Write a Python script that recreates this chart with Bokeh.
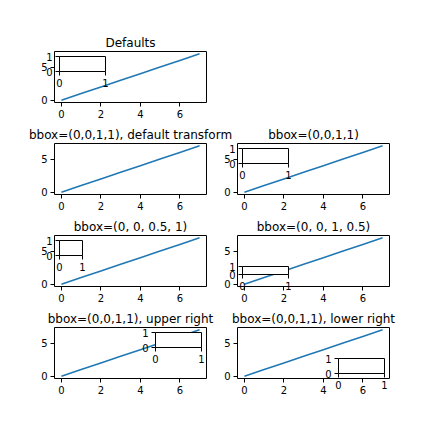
from bokeh.plotting import figure
from bokeh.layouts import column
from bokeh.models import Range1d, FixedTicker
from bokeh.embed import file_html
from bokeh.resources import INLINE

FONT = "DejaVu Sans"

# ---- data ----
x_data = [0, 1, 2, 3, 4, 5, 6, 7]
y_data = [0, 1, 2, 3, 4, 5, 6, 7]
main_xticks = [0, 2, 4, 6]
main_yticks = [0, 5]
inset_xticks = [0, 1]
inset_yticks = [0, 1]
inset_lim = [0, 1]
titles = [
    "Defaults",
    "bbox=(0,0,1,1), default transform",
    "bbox=(0,0,1,1)",
    "bbox=(0, 0, 0.5, 1)",
    "bbox=(0, 0, 1, 0.5)",
    "bbox=(0,0,1,1), upper right",
    "bbox=(0,0,1,1), lower right",
]

# ---- layout (page px of each axes frame) ----
FW, FH = 152, 51
main_pos = [(54, 51), (54, 143), (237, 143), (54, 235), (237, 235), (54, 327), (237, 327)]
inset_pos = [  # left, top, w, h
    (59, 56, 46, 15),
    (242, 148, 46, 15),
    (59, 240, 23, 15),
    (242, 266, 46, 8),
    (155, 332, 46, 15),
    (338, 358, 46, 15),
]
# identical borders for every figure (the column aligns them)
ML, MR, MT, MB = 40, 30, 30, 30


def pad(vals, frac=0.05):
    lo, hi = min(vals), max(vals)
    d = (hi - lo) * frac
    return lo - d, hi + d


def style(p, xt, yt):
    for ax, t in ((p.xaxis[0], xt), (p.yaxis[0], yt)):
        ax.ticker = FixedTicker(ticks=t)
        ax.axis_line_color = None
        ax.major_tick_in = 0
        ax.major_tick_out = 4
        ax.major_tick_line_color = "black"
        ax.major_tick_line_width = 1
        ax.minor_tick_line_color = None
        ax.major_label_text_font = FONT
        ax.major_label_text_font_size = "10px"
        ax.major_label_text_color = "black"
        ax.major_label_standoff = 3
    p.xgrid.visible = False
    p.ygrid.visible = False
    p.outline_line_color = "black"
    p.outline_line_width = 1
    p.outline_line_alpha = 1


def place(fl, ft):
    return {"position": "absolute", "left": f"{fl - ML}px", "top": f"{ft - MT}px"}


children = []
xlo, xhi = pad(x_data)
ylo, yhi = pad(y_data)
for t, (fl, ft) in zip(titles, main_pos):
    p = figure(frame_width=FW, frame_height=FH,
               x_range=Range1d(xlo, xhi), y_range=Range1d(ylo, yhi),
               output_backend="svg", toolbar_location=None,
               min_border_left=ML, min_border_right=MR,
               min_border_top=MT, min_border_bottom=MB,
               background_fill_color="white", border_fill_alpha=0,
               title=t, styles=place(fl, ft))
    p.title.text_font = FONT
    p.title.text_font_size = "12px"
    p.title.text_font_style = "normal"
    p.title.text_color = "black"
    p.title.align = "center"
    p.title.standoff = 3
    p.line(x_data, y_data, line_color="#1f77b4", line_width=1.5)
    style(p, main_xticks, main_yticks)
    children.append(p)

for (il, it, w, h) in inset_pos:
    q = figure(frame_width=w, frame_height=h,
               x_range=Range1d(*inset_lim), y_range=Range1d(*inset_lim),
               output_backend="svg", toolbar_location=None,
               min_border_left=ML, min_border_right=MR,
               min_border_top=MT, min_border_bottom=MB,
               background_fill_color="white", border_fill_alpha=0,
               styles=place(il, it))
    style(q, inset_xticks, inset_yticks)
    children.append(q)

root = column(*children, width=432, height=432, sizing_mode="fixed",
              styles={"position": "relative"})

open("out.html", "w").write(file_html(root, INLINE))
